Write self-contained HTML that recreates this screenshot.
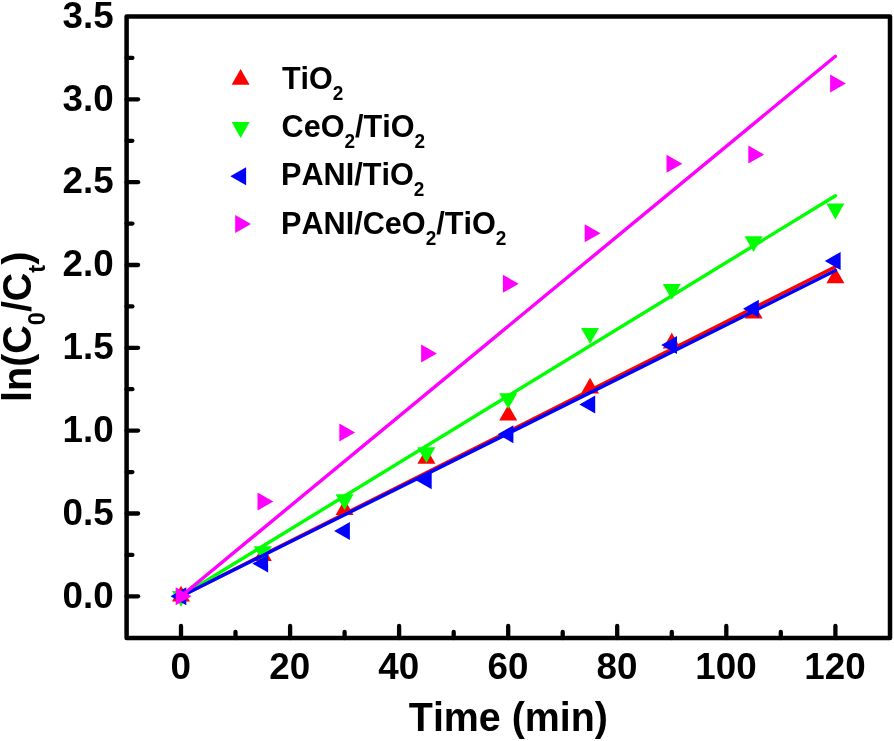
<!DOCTYPE html>
<html lang="en"><head><meta charset="utf-8"><title>ln(C0/Ct) vs Time</title>
<style>html,body{margin:0;padding:0;background:#fff;}body{width:894px;height:741px;overflow:hidden;}svg{display:block;}text{font-kerning:none;font-variant-ligatures:none;font-family:"Liberation Sans",sans-serif;font-weight:bold;fill:#000;}</style>
</head><body>
<svg width="894" height="741" viewBox="0 0 894 741">
<rect x="0" y="0" width="894" height="741" fill="#fff"/>
<g fill="#ff0000" stroke="none">
<polygon points="181.0,585.7 172.0,601.5 190.0,601.5"/>
<polygon points="262.8,545.2 253.8,561.0 271.8,561.0"/>
<polygon points="344.6,499.3 335.6,515.1 353.6,515.1"/>
<polygon points="426.4,448.0 417.4,463.8 435.4,463.8"/>
<polygon points="508.2,404.7 499.2,420.5 517.2,420.5"/>
<polygon points="590.0,377.7 581.0,393.5 599.0,393.5"/>
<polygon points="671.8,332.8 662.8,348.6 680.8,348.6"/>
<polygon points="753.6,302.6 744.6,318.4 762.6,318.4"/>
<polygon points="835.4,267.5 826.4,283.3 844.4,283.3"/>
</g>
<line x1="181.0" y1="596.2" x2="835.4" y2="266.7" stroke="#ff0000" stroke-width="3.4" stroke-linecap="round"/>
<g fill="#00ff00" stroke="none">
<polygon points="181.0,606.7 172.0,590.9 190.0,590.9"/>
<polygon points="262.8,562.0 253.8,546.2 271.8,546.2"/>
<polygon points="344.6,510.1 335.6,494.3 353.6,494.3"/>
<polygon points="426.4,463.1 417.4,447.3 435.4,447.3"/>
<polygon points="508.2,409.0 499.2,393.2 517.2,393.2"/>
<polygon points="590.0,343.7 581.0,327.9 599.0,327.9"/>
<polygon points="671.8,299.7 662.8,283.9 680.8,283.9"/>
<polygon points="753.6,252.1 744.6,236.3 762.6,236.3"/>
<polygon points="835.4,219.4 826.4,203.6 844.4,203.6"/>
</g>
<line x1="181.0" y1="596.2" x2="835.4" y2="195.7" stroke="#00ff00" stroke-width="3.4" stroke-linecap="round"/>
<g fill="#0000ff" stroke="none">
<polygon points="170.5,596.2 186.3,587.2 186.3,605.2"/>
<polygon points="252.3,563.6 268.1,554.6 268.1,572.6"/>
<polygon points="334.1,530.9 349.9,521.9 349.9,539.9"/>
<polygon points="415.9,480.2 431.7,471.2 431.7,489.2"/>
<polygon points="497.6,434.3 513.4,425.3 513.4,443.3"/>
<polygon points="579.4,404.6 595.2,395.6 595.2,413.6"/>
<polygon points="661.2,345.0 677.0,336.0 677.0,354.0"/>
<polygon points="743.0,308.7 758.8,299.7 758.8,317.7"/>
<polygon points="824.8,260.9 840.6,251.9 840.6,269.9"/>
</g>
<line x1="181.0" y1="596.2" x2="835.4" y2="270.6" stroke="#0000ff" stroke-width="3.4" stroke-linecap="round"/>
<g fill="#ff00ff" stroke="none">
<polygon points="191.5,596.2 175.7,587.2 175.7,605.2"/>
<polygon points="273.3,501.6 257.5,492.6 257.5,510.6"/>
<polygon points="355.1,432.5 339.3,423.5 339.3,441.5"/>
<polygon points="436.9,353.6 421.1,344.6 421.1,362.6"/>
<polygon points="518.7,283.8 502.9,274.8 502.9,292.8"/>
<polygon points="600.5,233.3 584.7,224.3 584.7,242.3"/>
<polygon points="682.3,163.7 666.5,154.7 666.5,172.7"/>
<polygon points="764.1,154.6 748.3,145.6 748.3,163.6"/>
<polygon points="845.9,83.5 830.1,74.5 830.1,92.5"/>
</g>
<line x1="181.0" y1="596.2" x2="835.4" y2="56.3" stroke="#ff00ff" stroke-width="3.4" stroke-linecap="round"/>
<rect x="126.6" y="16.4" width="763.4" height="621.5" fill="none" stroke="#000" stroke-width="4.5" stroke-linejoin="round"/>
<g stroke="#000" stroke-width="4.3" stroke-linecap="round">
<line x1="126.6" y1="596.3" x2="138.1" y2="596.3"/>
<line x1="126.6" y1="513.5" x2="138.1" y2="513.5"/>
<line x1="126.6" y1="430.6" x2="138.1" y2="430.6"/>
<line x1="126.6" y1="347.8" x2="138.1" y2="347.8"/>
<line x1="126.6" y1="265.0" x2="138.1" y2="265.0"/>
<line x1="126.6" y1="182.2" x2="138.1" y2="182.2"/>
<line x1="126.6" y1="99.3" x2="138.1" y2="99.3"/>
<line x1="126.6" y1="554.9" x2="132.4" y2="554.9"/>
<line x1="126.6" y1="472.1" x2="132.4" y2="472.1"/>
<line x1="126.6" y1="389.2" x2="132.4" y2="389.2"/>
<line x1="126.6" y1="306.4" x2="132.4" y2="306.4"/>
<line x1="126.6" y1="223.6" x2="132.4" y2="223.6"/>
<line x1="126.6" y1="140.8" x2="132.4" y2="140.8"/>
<line x1="126.6" y1="57.9" x2="132.4" y2="57.9"/>
<line x1="181.0" y1="638.0" x2="181.0" y2="626.0"/>
<line x1="290.1" y1="638.0" x2="290.1" y2="626.0"/>
<line x1="399.1" y1="638.0" x2="399.1" y2="626.0"/>
<line x1="508.2" y1="638.0" x2="508.2" y2="626.0"/>
<line x1="617.2" y1="638.0" x2="617.2" y2="626.0"/>
<line x1="726.3" y1="638.0" x2="726.3" y2="626.0"/>
<line x1="835.4" y1="638.0" x2="835.4" y2="626.0"/>
<line x1="235.5" y1="638.0" x2="235.5" y2="632.0"/>
<line x1="344.6" y1="638.0" x2="344.6" y2="632.0"/>
<line x1="453.7" y1="638.0" x2="453.7" y2="632.0"/>
<line x1="562.7" y1="638.0" x2="562.7" y2="632.0"/>
<line x1="671.8" y1="638.0" x2="671.8" y2="632.0"/>
<line x1="780.8" y1="638.0" x2="780.8" y2="632.0"/>
</g>
<text transform="translate(113.60,607.60) scale(1,1.010)" font-size="36.80" text-anchor="end">0.0</text>
<text transform="translate(113.60,524.77) scale(1,1.010)" font-size="36.80" text-anchor="end">0.5</text>
<text transform="translate(113.60,441.95) scale(1,1.010)" font-size="36.80" text-anchor="end">1.0</text>
<text transform="translate(113.60,359.12) scale(1,1.010)" font-size="36.80" text-anchor="end">1.5</text>
<text transform="translate(113.60,276.30) scale(1,1.010)" font-size="36.80" text-anchor="end">2.0</text>
<text transform="translate(113.60,193.47) scale(1,1.010)" font-size="36.80" text-anchor="end">2.5</text>
<text transform="translate(113.60,110.65) scale(1,1.010)" font-size="36.80" text-anchor="end">3.0</text>
<text transform="translate(113.60,27.82) scale(1,1.010)" font-size="36.80" text-anchor="end">3.5</text>
<text transform="translate(180.70,679.20) scale(1,1.010)" font-size="36.80" text-anchor="middle">0</text>
<text transform="translate(289.76,679.20) scale(1,1.010)" font-size="36.80" text-anchor="middle">20</text>
<text transform="translate(398.82,679.20) scale(1,1.010)" font-size="36.80" text-anchor="middle">40</text>
<text transform="translate(507.88,679.20) scale(1,1.010)" font-size="36.80" text-anchor="middle">60</text>
<text transform="translate(616.94,679.20) scale(1,1.010)" font-size="36.80" text-anchor="middle">80</text>
<text transform="translate(726.00,679.20) scale(1,1.010)" font-size="36.80" text-anchor="middle">100</text>
<text transform="translate(835.06,679.20) scale(1,1.010)" font-size="36.80" text-anchor="middle">120</text>
<text transform="translate(508.40,730.80) scale(1,1.020)" font-size="39.40" text-anchor="middle">Time (min)</text>
<text transform="translate(31.4,326.8) rotate(-90) scale(1,1.040)" font-size="39.5" text-anchor="middle">ln(C<tspan font-size="23.5" dy="13.37">0</tspan><tspan dy="-13.37">/C</tspan><tspan font-size="23.5" dy="13.37">t</tspan><tspan dy="-13.37">)</tspan></text>
<polygon fill="#ff0000" points="240.6,69.0 231.6,84.8 249.6,84.8"/>
<polygon fill="#00ff00" points="240.6,137.9 231.6,122.1 249.6,122.1"/>
<polygon fill="#0000ff" points="230.3,176.3 246.1,167.3 246.1,185.3"/>
<polygon fill="#ff00ff" points="251.0,224.0 235.2,215.0 235.2,233.0"/>
<text transform="translate(281.90,88.70) scale(1,1.040)" font-size="30.50" text-anchor="start">TiO<tspan font-size="19" dy="10.58">2</tspan></text>
<text transform="translate(281.60,136.80) scale(1,1.040)" font-size="30.60" text-anchor="start">CeO<tspan font-size="19" dy="10.58">2</tspan><tspan dy="-10.58">/TiO</tspan><tspan font-size="19" dy="10.58">2</tspan></text>
<text transform="translate(281.00,185.30) scale(1,1.040)" font-size="30.65" text-anchor="start">PANI/TiO<tspan font-size="19" dy="10.58">2</tspan></text>
<text transform="translate(281.00,233.60) scale(1,1.040)" font-size="30.65" text-anchor="start">PANI/CeO<tspan font-size="19" dy="10.58">2</tspan><tspan dy="-10.58">/TiO</tspan><tspan font-size="19" dy="10.58">2</tspan></text>
</svg></body></html>
